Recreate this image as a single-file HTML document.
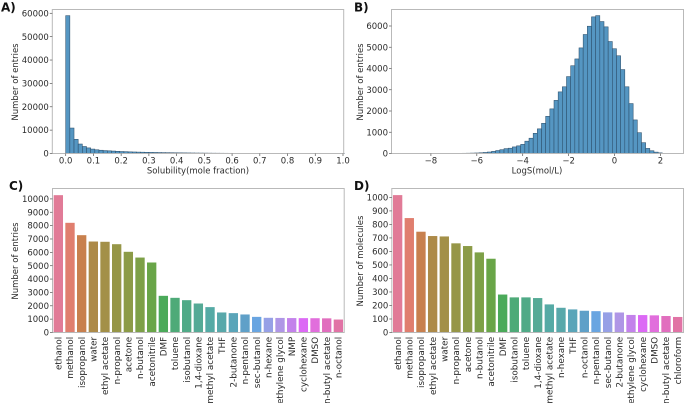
<!DOCTYPE html>
<html lang="en">
<head>
<meta charset="utf-8">
<title>Solubility dataset overview</title>
<style>
html,body{margin:0;padding:0;background:#fff;width:685px;height:403px;overflow:hidden}
svg{display:block;filter:blur(0.35px)}
text{font-family:"DejaVu Sans","Liberation Sans",sans-serif;fill:#2b2b2b}
.tick{font-size:8.5px}
.rot{font-size:8.8px}
.axis{font-size:8.5px}
.panel{font-size:12px;font-weight:bold;fill:#111}
</style>
</head>
<body>
<svg id="figure" width="685" height="403" viewBox="0 0 685 403" xmlns="http://www.w3.org/2000/svg"></svg>
<script>
// Panel A: histogram counts per solubility bin
const solubilityBinStart = 0;
const solubilityBinWidth = 0.015;
const solubilityCounts = [59000,10900,6070,4060,3000,2400,1900,1600,1400,1250,1150,1050,950,850,780,700,650,600,560,520,480,450,420,390,360,330,300,280,260,240,220,200,185,170,155,140,130,120,110,100,95,90,80,75,70,65,60,55,50,45,40,40,35,30,30,25,25,20,20,15,15,10,10,10,8,8,6];
const solubilityXTicks = ["0.0","0.1","0.2","0.3","0.4","0.5","0.6","0.7","0.8","0.9","1.0"];
const solubilityYTicks = [0,10000,20000,30000,40000,50000,60000];

// Panel B: histogram counts per LogS bin
const logsBinStart = -9.17;
const logsBinWidth = 0.1815;
const logsCounts = [2,2,2,2,3,3,2,3,4,5,6,6,8,10,12,15,20,25,35,50,70,100,140,180,230,250,310,360,430,580,720,950,1160,1420,1750,2100,2500,2900,3140,3620,4130,4450,4970,5600,5990,6430,6490,6210,5960,5270,4930,4600,3950,3140,2350,1580,980,510,240,130,65,30,10];
const logsXTicks = [-8,-6,-4,-2,0,2];
const logsYTicks = [0,1000,2000,3000,4000,5000,6000];

// Panel C: entries per solvent
const entrySolvents = ["ethanol","methanol","isopropanol","water","ethyl acetate","n-propanol","acetone","n-butanol","acetonitrile","DMF","toluene","isobutanol","1,4-dioxane","methyl acetate","THF","2-butanone","n-pentanol","sec-butanol","n-hexane","ethylene glycol","NMP","cyclohexane","DMSO","n-butyl acetate","n-octanol"];
const entryCounts = [10280,8210,7285,6810,6790,6610,6040,5610,5240,2745,2595,2420,2170,1900,1500,1450,1350,1170,1100,1090,1080,1075,1070,1060,970];
const entryYTicks = [0,1000,2000,3000,4000,5000,6000,7000,8000,9000,10000];

// Panel D: molecules per solvent
const moleculeSolvents = ["ethanol","methanol","isopropanol","ethyl acetate","water","n-propanol","acetone","n-butanol","acetonitrile","DMF","isobutanol","toluene","1,4-dioxane","methyl acetate","n-hexane","THF","n-octanol","n-pentanol","sec-butanol","2-butanone","ethylene glycol","cyclohexane","DMSO","n-butyl acetate","chloroform"];
const moleculeCounts = [1017,847,746,714,711,660,640,593,546,281,260,260,255,208,183,171,161,158,149,148,130,129,127,122,115];
const moleculeYTicks = [0,100,200,300,400,500,600,700,800,900,1000];

const barPalette = ["#e17b97","#e07e6e","#c8804e","#ad8a48","#a39048","#969647","#8c9b47","#7da047","#69a548","#4baa5a","#4eaa78","#50aa87","#55aa96","#55aaa5","#58a8aa","#5aa5b9","#5fa0c8","#69a5e1","#96a0e6","#af96e6","#c382eb","#dc69f5","#e16edc","#e16ebe","#e173a5"];

const svg = document.getElementById('figure');
const NS = 'http://www.w3.org/2000/svg';

function make(tag, attrs, parent){
  const el = document.createElementNS(NS, tag);
  for (const k in attrs) el.setAttribute(k, attrs[k]);
  parent.appendChild(el);
  return el;
}
function linear(d0, d1, r0, r1){
  return v => r0 + (v - d0) * (r1 - r0) / (d1 - d0);
}
function frame(parent, box){
  const f = make('rect', {x:box.l, y:box.t, width:box.r-box.l, height:box.b-box.t, fill:'none', stroke:'#b9b9b9', 'stroke-width':1}, parent);
  
  
}
function yAxis(parent, box, ticks, y, title, titleX){
  ticks.forEach(v => {
    const t = make('line', {x1:box.l-2.5, x2:box.l, y1:y(v), y2:y(v), stroke:'#555', 'stroke-width':0.7}, parent);
    
    
    const l = make('text', {x:box.l-3.5, y:y(v)+3.1, 'text-anchor':'end', class:'tick'}, parent);
    l.textContent = v;
    
    
  });
  const cy = (box.t + box.b) / 2 + 0.5;
  const a = make('text', {x:titleX, y:cy, 'text-anchor':'middle', class:'axis', transform:'rotate(-90 '+titleX+' '+cy+')'}, parent);
  a.textContent = title;
  
  
}
function xTick(parent, box, px, label){
  const t = make('line', {x1:px, x2:px, y1:box.b, y2:box.b+2.5, stroke:'#555', 'stroke-width':0.7}, parent);
  
  
  const l = make('text', {x:px, y:box.b+10, 'text-anchor':'middle', class:'tick'}, parent);
  l.textContent = label;
  
  
}
function xTitle(parent, cx, y, title){
  const a = make('text', {x:cx, y:y, 'text-anchor':'middle', class:'axis'}, parent);
  a.textContent = title;
  
  
}
function panelLabel(parent, x, y, text){
  const p = make('text', {x:x, y:y, class:'panel'}, parent);
  p.textContent = text;
  
  
}
function histogram(parent, counts, start, width, x, y){
  counts.forEach((c, i) => {
    const x0 = x(start + i * width), x1 = x(start + (i + 1) * width);
    const top = y(c);
    const b = make('rect', {x:x0, y:top, width:x1-x0, height:Math.max(0, y(0)-top), fill:'#5596c2', stroke:'#2d4f6b', 'stroke-width':0.55}, parent);
    
    
  });
}
function barChart(parent, box, names, counts, y){
  const step = (box.r - box.l) / names.length;
  names.forEach((n, i) => {
    const cx = box.l + step * (i + 0.5);
    const w = step * 0.8;
    const top = y(counts[i]);
    const b = make('rect', {x:cx-w/2, y:top, width:w, height:y(0)-top, fill:barPalette[i]}, parent);
    
    
    const ty = box.b + 4.3, tx = cx + 3.2;
    const l = make('text', {x:tx, y:ty, 'text-anchor':'end', class:'rot', transform:'rotate(-90 '+tx+' '+ty+')'}, parent);
    l.textContent = n;
    
    
  });
}

// Panel A
const gA = make('g', {}, svg);


const boxA = {l:52.3, r:343.7, t:9.5, b:153.5};
const xA = linear(0, 1, 65.7, 343);
const yA = linear(0, 60000, 153.5, 13.3);
histogram(gA, solubilityCounts, solubilityBinStart, solubilityBinWidth, xA, yA);
frame(gA, boxA);
solubilityXTicks.forEach(t => xTick(gA, boxA, xA(parseFloat(t)), t));
yAxis(gA, boxA, solubilityYTicks, yA, 'Number of entries', 18);
xTitle(gA, 198, 173.5, 'Solubility(mole fraction)');
panelLabel(gA, 1, 11.5, 'A)');

// Panel B
const gB = make('g', {}, svg);


const boxB = {l:391.5, r:683.5, t:9.5, b:153.5};
const xB = linear(0, 2, 614.5, 660.4);
const yB = linear(0, 6000, 153.5, 26);
histogram(gB, logsCounts, logsBinStart, logsBinWidth, xB, yB);
frame(gB, boxB);
logsXTicks.forEach(t => xTick(gB, boxB, xB(t), String(t).replace('-', '\u2212')));
yAxis(gB, boxB, logsYTicks, yB, 'Number of entries', 363);
xTitle(gB, 537, 173.5, 'LogS(mol/L)');
panelLabel(gB, 354, 11.5, 'B)');

// Panel C
const gC = make('g', {}, svg);


const boxC = {l:52.5, r:344.2, t:188.5, b:332.5};
const yC = linear(0, 10000, 332.5, 198.9);
barChart(gC, boxC, entrySolvents, entryCounts, yC);
frame(gC, boxC);
yAxis(gC, boxC, entryYTicks, yC, 'Number of entries', 18);
panelLabel(gC, 9, 190, 'C)');

// Panel D
const gD = make('g', {}, svg);


const boxD = {l:391.8, r:683.5, t:188.5, b:332.5};
const yD = linear(0, 1000, 332.5, 197.4);
barChart(gD, boxD, moleculeSolvents, moleculeCounts, yD);
frame(gD, boxD);
yAxis(gD, boxD, moleculeYTicks, yD, 'Number of molecules', 363);
panelLabel(gD, 354, 190, 'D)');
</script>
</body>
</html>
